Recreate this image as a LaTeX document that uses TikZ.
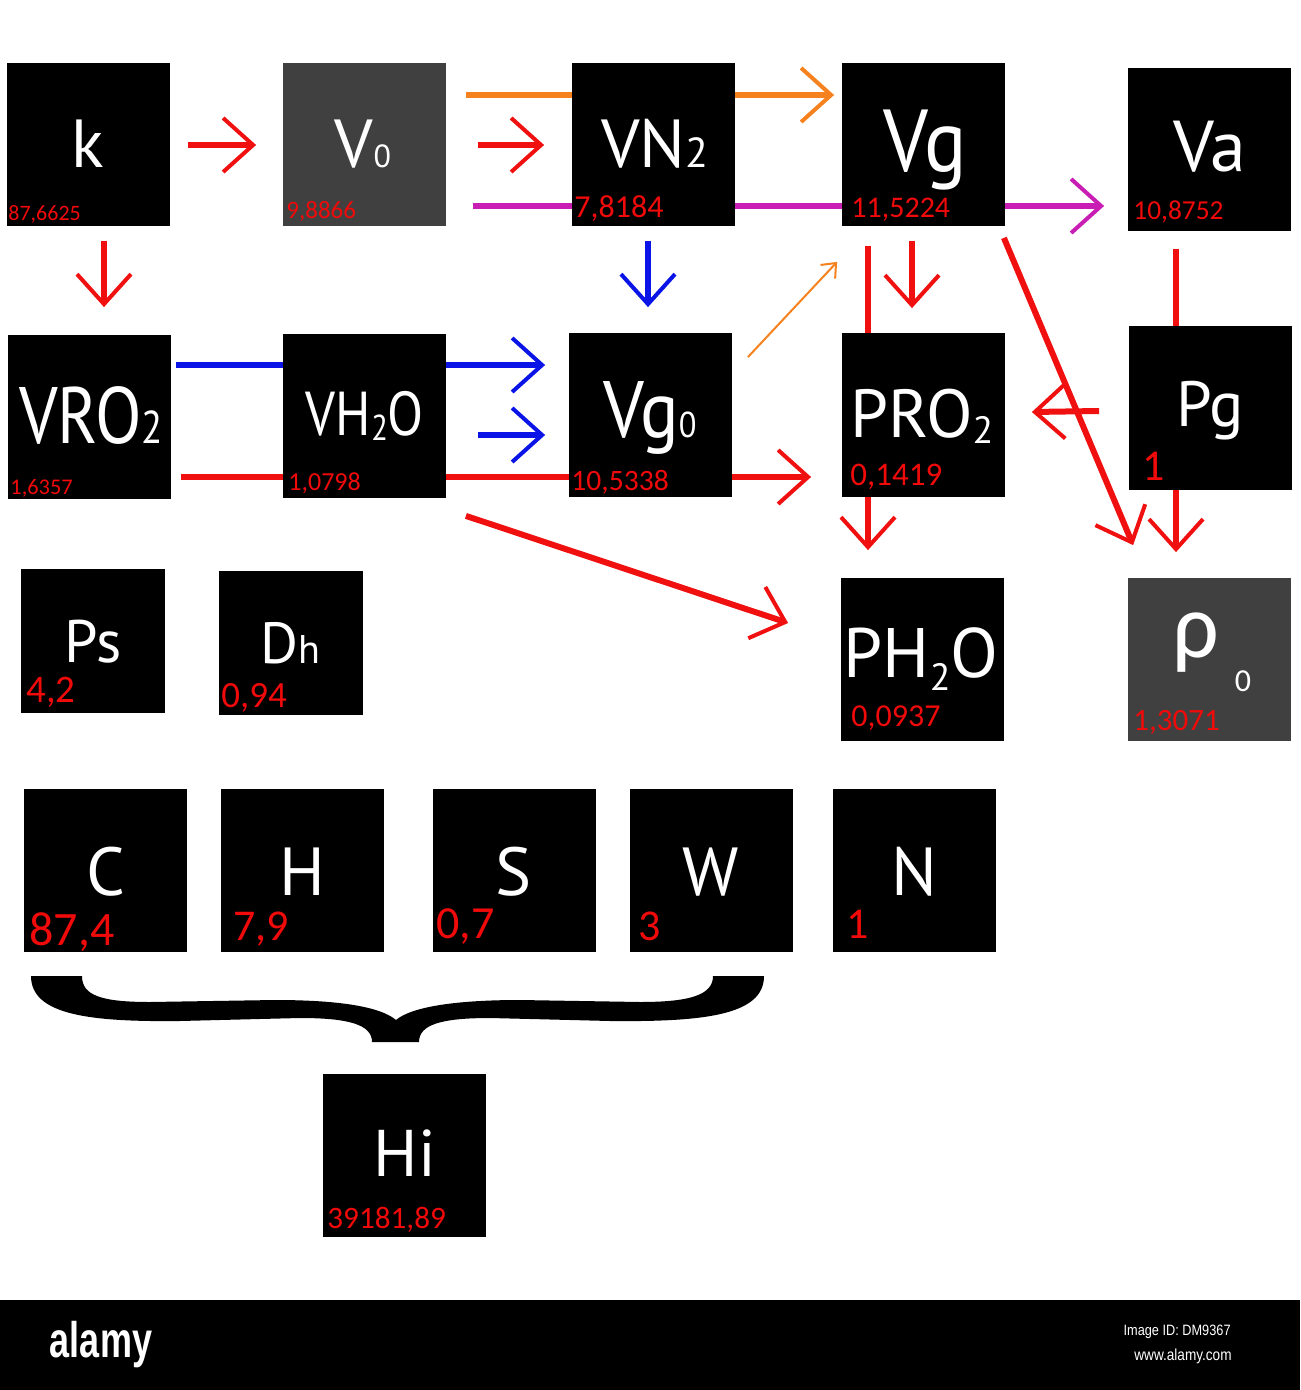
\documentclass[tikz,border=0pt]{standalone}
\usepackage{fontspec}
\setmainfont{Carlito}
\newfontfamily\labelfont{PT Sans}
\newfontfamily\brandfont{Liberation Sans}
\usetikzlibrary{arrows.meta,calc}
\pgfdeclarelayer{background}
\pgfsetlayers{background,main}

\definecolor{boxgrey}{HTML}{404040}
\definecolor{numred}{HTML}{F00A0A}
\definecolor{flowred}{HTML}{F01010}
\definecolor{flowblue}{HTML}{0A14E6}
\definecolor{floworange}{HTML}{F5821E}
\definecolor{flowmagenta}{HTML}{C81EB4}

% smaller / lowered parts of a symbol
\newcommand{\smallpart}[2]{{\fontsize{#1}{#1}\selectfont #2}}
\newcommand{\lowpart}[3]{\raisebox{-#2pt}{\fontsize{#1}{#1}\selectfont #3}}
\newcommand{\narrowed}[1]{\scalebox{0.9}[1]{#1}}

\begin{document}
\begin{tikzpicture}[x=0.5pt, y=-0.5pt,
  >={Straight Barb[length=15pt,width=27pt,line width=2pt]},
  box/.style={fill=black, minimum width=81.5pt, minimum height=81.5pt, inner sep=0pt},
  smallbox/.style={box, minimum width=72pt, minimum height=72pt},
  greybox/.style={box, fill=boxgrey},
  sym/.style={text=white, anchor=base, inner sep=0pt, font=\labelfont\fontsize{#1}{#1}\selectfont},
  val/.style={text=numred, anchor=base west, inner sep=0pt, font=\fontsize{#1}{#1}\selectfont},
  redarr/.style={->, draw=flowred, line width=3pt},
  bluearr/.style={->, draw=flowblue, line width=3pt},
  orangearr/.style={->, draw=floworange, line width=3pt},
  magentaarr/.style={->, draw=flowmagenta, line width=3pt}]
  \useasboundingbox (0,0) rectangle (1300,1390);

  % first row
  \node[box] (k) at (88,145) {};
  \node[greybox] (V0) at (364,145) {};
  \node[box] (VN2) at (653,145) {};
  \node[box] (Vg) at (923,145) {};
  \node[box] (Va) at (1209,150) {};
  \node[sym=34] (k-sym) at (88,168) {k};
  \node[sym=34] (V0-sym) at (363,168) {V\smallpart{16}{0}};
  \node[sym=34] (VN2-sym) at (655,168) {VN\smallpart{21}{2}};
  \node[sym=44] (Vg-sym) at (925,172) {\narrowed{Vg}};
  \node[sym=36] (Va-sym) at (1210,172) {Va};
  \node[val=11] (k-val) at (8,221) {87,6625};
  \node[val=12.5] (V0-val) at (286,219) {9,8866};
  \node[val=16] (VN2-val) at (574,218) {7,8184};
  \node[val=15] (Vg-val) at (851,218) {11,5224};
  \node[val=13.7] (Va-val) at (1133,220) {10,8752};

  % second row
  \node[box] (VRO2) at (89,417) {};
  \node[box] (VH2O) at (364,416) {};
  \node[box] (Vg0) at (650,415) {};
  \node[box] (PRO2) at (923,415) {};
  \node[box] (Pg) at (1210,408) {};
  \node[sym=40] (VRO2-sym) at (91,443) {\scalebox{0.85}[1]{VRO\smallpart{23}{2}}};
  \node[sym=31] (VH2O-sym) at (365,435) {\scalebox{0.85}[1]{VH\lowpart{18}{2.5}{2}O}};
  \node[sym=40] (Vg0-sym) at (650,437) {\narrowed{Vg\smallpart{18}{0}}};
  \node[sym=34] (PRO2-sym) at (922,437) {PRO\lowpart{19}{3}{2}};
  \node[sym=32] (Pg-sym) at (1210,426) {Pg};
  \node[val=11.2] (VRO2-val) at (10,494) {1,6357};
  \node[val=13] (VH2O-val) at (288,490) {1,0798};
  \node[val=14.8] (Vg0-val) at (571,490) {10,5338};
  \node[val=16.5] (PRO2-val) at (850,485) {0,1419};
  \node[val=22] (Pg-val) at (1142,480) {1};

  % third row
  \node[smallbox] (Ps) at (93,641) {};
  \node[smallbox] (Dh) at (291,643) {};
  \node[box] (PH2O) at (922,659) {};
  \node[greybox] (rho) at (1209,659) {};
  \node[sym=30] (Ps-sym) at (93,662) {Ps};
  \node[sym=29] (Dh-sym) at (290,663) {D\smallpart{20}{h}};
  \node[sym=35] (PH2O-sym) at (921,677) {PH\lowpart{19}{6.5}{2}O};
  \node[text=white, anchor=base, inner sep=0pt, font=\fontsize{46}{46}\selectfont] (rho-sym) at (1212,657) {ρ\,\lowpart{16}{17}{0}};
  \node[val=19.5] (Ps-val) at (26,702) {4,2};
  \node[val=18.5] (Dh-val) at (221,707) {0,94};
  \node[val=16] (PH2O-val) at (851,726) {0,0937};
  \node[val=15.5] (rho-val) at (1133,730) {1,3071};

  % composition
  \node[box] (C) at (105,870) {};
  \node[box] (H) at (302,870) {};
  \node[box] (S) at (514,870) {};
  \node[box] (W) at (711,870) {};
  \node[box] (N) at (914,870) {};
  \node[sym=34] (C-sym) at (106,895) {C};
  \node[sym=34] (H-sym) at (302,895) {H};
  \node[sym=34] (S-sym) at (514,895) {S};
  \node[sym=34] (W-sym) at (711,895) {W};
  \node[sym=34] (N-sym) at (914,895) {N};
  \node[val=24] (C-val) at (29,945) {87,4};
  \node[val=22] (H-val) at (233,940) {7,9};
  \node[val=23] (S-val) at (436,938) {0,7};
  \node[val=22] (W-val) at (638,940) {3};
  \node[val=22] (N-val) at (846,938) {1};

  % brace
  \fill[black] (31,976) .. controls (31,1015) and (90,1022) .. (180,1021) -- (300,1018)
    .. controls (350,1018) and (372,1025) .. (372,1042) -- (419,1042)
    .. controls (419,1025) and (440,1018) .. (490,1018) -- (610,1021)
    .. controls (705,1022) and (764,1015) .. (764,976) -- (713,976)
    .. controls (713,995) and (690,1002) .. (640,1002) -- (520,1000)
    .. controls (450,1000) and (410,1008) .. (396,1020)
    .. controls (382,1008) and (345,1000) .. (275,1000) -- (150,1002)
    .. controls (100,1002) and (82,995) .. (82,976) -- cycle;

  \node[box] (Hi) at (404,1155) {};
  \node[sym=33] (Hi-sym) at (405,1176) {Hi};
  \node[val=15.6] (Hi-val) at (327,1228) {39181,89};

  % arrows
  \begin{pgfonlayer}{background}
    \draw[redarr] ($(k.east)+(18,0)$) -- ($(V0.west)+(-26,0)$);
    \draw[redarr] ($(V0.east)+(32,0)$) -- ($(VN2.west)+(-27,0)$);
    \draw[orangearr] ($(V0.east)+(20,-50)$) -- ($(Vg.west)+(-7,-50)$);
    \draw[magentaarr] ($(V0.east)+(27,61)$) -- ($(Va.west)+(-23,56)$);
    \draw[redarr] ($(k.south)+(16,14)$) -- ($(VRO2.north)+(15,-28)$);
    \draw[bluearr] ($(VN2.south)+(-5,14)$) -- ($(Vg0.north)+(-2,-26)$);
    \draw[bluearr] ($(VRO2.east)+(5,-52)$) -- ($(Vg0.west)+(-23,-50)$);
    \draw[bluearr] ($(VH2O.east)+(32,19)$) -- ($(Vg0.west)+(-23,20)$);
    \draw[redarr] ($(VRO2.east)+(10,60)$) -- ($(PRO2.west)+(-30,62)$);
    \draw[redarr] ($(VH2O.south east)+(20,18)$) -- ($(PH2O.west)+(-52,-36)$);
    \draw[->, draw=floworange, line width=1pt, >={Straight Barb[length=6pt,width=10pt,line width=1pt]}]
      ($(Vg0.north east)+(16,24)$) -- ($(Vg.south west)+(-4,35)$);
    \draw[redarr] ($(Vg.south)+(-11,14)$) -- ($(PRO2.north)+(-11,-25)$);
    \draw[redarr] ($(Vg.south)+(-55,19)$) -- ($(PH2O.north)+(-54,-27)$);
    \draw[redarr] ($(Pg.west)+(-29,3)$) -- ($(PRO2.east)+(27,-3)$);
    \draw[redarr] ($(Vg.south east)+(-1,11)$) -- ($(rho.north west)+(6,-32)$);
    \draw[redarr] ($(Va.south)+(-33,17)$) -- ($(rho.north)+(-33,-25)$);
  \end{pgfonlayer}

  % footer
  \fill[black] (0,1300) rectangle (1300,1390);
  \node[text=white, inner sep=0pt, font=\brandfont\bfseries\fontsize{25}{25}\selectfont] (brand) at (101,1345) {\scalebox{0.72}[1]{alamy}};
  \node[text=white, anchor=east, inner sep=0pt, font=\brandfont\fontsize{7.5}{7.5}\selectfont] (imgid) at (1231,1332) {\scalebox{0.85}[1]{Image ID: DM9367}};
  \node[text=white, anchor=east, inner sep=0pt, font=\brandfont\fontsize{8}{8}\selectfont] (site) at (1232,1356) {\scalebox{0.85}[1]{www.alamy.com}};
\end{tikzpicture}
\end{document}
